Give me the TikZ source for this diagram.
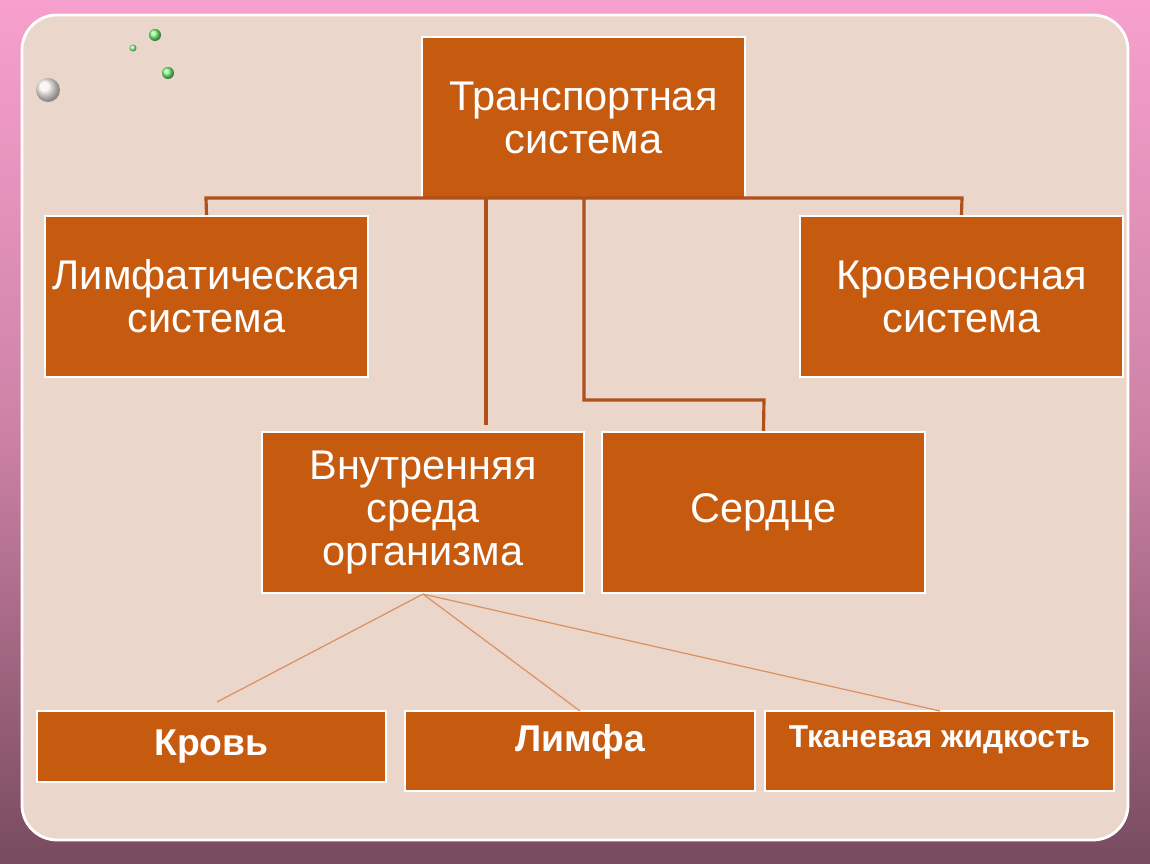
\documentclass[tikz,border=0pt]{standalone}
\usepackage{fontspec}
\setmainfont{Liberation Sans}
\begin{document}
\begin{tikzpicture}[x=0.01cm,y=-0.01cm,
 box/.style={draw=white,line width=0.6pt,fill=boxc,text=white,align=center,inner sep=0pt,font=\fontsize{11.8}{12.2}\selectfont},
 thick line/.style={draw=linec,line width=0.9pt},
 thin line/.style={draw=thinc,line width=0.35pt}]
\definecolor{boxc}{HTML}{C65A0E}
\definecolor{linec}{HTML}{B0501A}
\definecolor{thinc}{HTML}{DD9060}
\definecolor{panel}{HTML}{EBD6CB}
\useasboundingbox (0,0) rectangle (1150,864);
\shade[top color={rgb,255:red,247;green,160;blue,205}, bottom color={rgb,255:red,120;green,75;blue,95}, middle color={rgb,255:red,205;green,130;blue,165}] (0,0) rectangle (1150,864);
\fill[panel,draw=white,line width=0.8pt,rounded corners=0.35cm] (22,15) rectangle (1128,840);
% droplets
\shade[ball color=white,opacity=0.8] (48,90) circle (12);
\shade[ball color=green!50!white] (168,73) circle (6);
\shade[ball color=green!50!white] (155,35) circle (6);
\shade[ball color=green!40!white] (133,48) circle (3.5);
% boxes
\node[box,minimum width=3.23cm,minimum height=1.61cm] (top) at (583.5,117.5) {Транспортная\\система};
\node[box,minimum width=3.23cm,minimum height=1.61cm] (lym) at (206.5,296.5) {Лимфатическая\\система};
\node[box,minimum width=3.23cm,minimum height=1.61cm] (blood) at (961.5,296.5) {Кровеносная\\система};
\node[box,minimum width=3.22cm,minimum height=1.61cm] (inner) at (423,512.5) {Внутренняя\\среда\\организма};
\node[box,minimum width=3.23cm,minimum height=1.61cm] (heart) at (763.5,512.5) {Сердце};
\node[box,minimum width=3.49cm,minimum height=0.71cm,font=\fontsize{10.6}{12}\selectfont\bfseries] (krov) at (211.5,746.5) {Кровь};
\node[box,minimum width=3.50cm,minimum height=0.80cm] (limfa) at (580,751) {};
\node[text=white,font=\fontsize{10.6}{12}\selectfont\bfseries] (limfaT) at (580,742) {Лимфа};
\node[box,minimum width=3.49cm,minimum height=0.80cm] (tkan) at (939.5,751) {};
\node[text=white,font=\fontsize{9}{11}\selectfont\bfseries] (tkanT) at (939.5,740) {Тканевая жидкость};
% connectors
\coordinate (hl) at (206,198); \coordinate (hr) at (962,198);
\draw[thick line] (lym.north) -- (hl) -- (hr) -- (blood.north);
\draw[thick line] (486,198) -- (486,425);
\draw[thick line] (584,198) -- (584,400) -- (764,400) -- (heart.north);
\coordinate (c1) at (217,702);
\coordinate (c2) at (580,711);
\coordinate (c3) at (940,711);
\draw[thin line] (inner.south) -- (c1);
\draw[thin line] (inner.south) -- (c2);
\draw[thin line] (inner.south) -- (c3);
\end{tikzpicture}
\end{document}
